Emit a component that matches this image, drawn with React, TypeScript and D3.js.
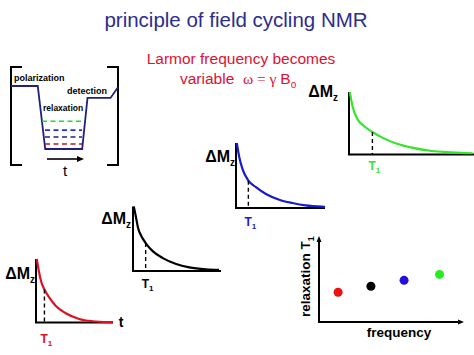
import React from "react";
import * as d3 from "d3";

// ---------- data ----------
// decay curves: t = fraction of time axis, m = fraction of initial ΔMz
const redT = [0, 0.026, 0.056, 0.1, 0.165, 0.25, 0.38, 0.555, 0.727, 0.944, 1.0];
const redM = [1, 0.815, 0.65, 0.52, 0.39, 0.26, 0.145, 0.055, 0.02, 0.006, 0.005];
const blackT = [0, 0.023, 0.049, 0.0875, 0.136, 0.22, 0.333, 0.485, 0.636, 0.826, 0.977];
const blackM = [1, 0.85, 0.667, 0.54, 0.434, 0.305, 0.2, 0.109, 0.057, 0.026, 0.016];
const blueT = [0, 0.03, 0.067, 0.131, 0.217, 0.33, 0.48, 0.63, 0.78, 0.966, 1.0];
const blueM = [1, 0.77, 0.59, 0.42, 0.32, 0.215, 0.128, 0.077, 0.04, 0.02, 0.018];
const greenT = [0, 0.022, 0.062, 0.114, 0.182, 0.262, 0.368, 0.5, 0.66, 0.82, 0.99];
const greenM = [1, 0.77, 0.565, 0.456, 0.36, 0.27, 0.18, 0.109, 0.056, 0.035, 0.02];
const t1Fraction = [0.1, 0.136, 0.131, 0.182];

// field-cycling pulse: time (a.u.) and field level
const pulseTime = [0, 2.5, 3.2, 6.65, 7.15, 9.3, 10];
const pulseField = [1, 1, 0, 0, 0.81, 0.81, 0.98];
const relaxLevels = [0.44, 0.3, 0.19, 0.08];
const relaxColors = ["#22dd22", "#2233dd", "#22227a", "#aa2222"];

// relaxation T1 vs frequency
const freq = [0.57, 1.55, 2.54, 3.6];
const relaxT1 = [0.35, 0.42, 0.49, 0.56];
const pointColors = ["#ee1111", "#000000", "#2211dd", "#22ee22"];

const FONT = "'Liberation Sans', Arial, Helvetica, sans-serif";

type Panel = {
  t: number[];
  m: number[];
  t1: number;
  color: string;
  x0: number;
  x1: number;
  yTop: number;
  yBot: number;
  labelEnd: number;
  labelBase: number;
  t1Base: number;
  showT?: boolean;
};

const panels: Panel[] = [
  { t: redT, m: redM, t1: t1Fraction[0], color: "#dd1122", x0: 36, x1: 113, yTop: 259, yBot: 322.5, labelEnd: 35, labelBase: 279, t1Base: 343, showT: true },
  { t: blackT, m: blackM, t1: t1Fraction[1], color: "#000000", x0: 133, x1: 221, yTop: 206.5, yBot: 271, labelEnd: 131, labelBase: 224, t1Base: 288 },
  { t: blueT, m: blueM, t1: t1Fraction[2], color: "#1a1acc", x0: 236, x1: 325, yTop: 143, yBot: 208, labelEnd: 235, labelBase: 162, t1Base: 226 },
  { t: greenT, m: greenM, t1: t1Fraction[3], color: "#33e62a", x0: 349, x1: 474, yTop: 92, yBot: 154.5, labelEnd: 338, labelBase: 97, t1Base: 170 },
];

function DecayPanel({ p }: { p: Panel }) {
  const x = d3.scaleLinear().domain([0, 1]).range([p.x0 + 0.8, p.x1]);
  const y = d3.scaleLinear().domain([0, 1]).range([p.yBot, p.yTop]);
  const pts = p.t.map((t, i) => [t, p.m[i]] as [number, number]);
  const line = d3
    .line<[number, number]>()
    .x((d) => x(d[0]))
    .y((d) => y(d[1]))
    .curve(d3.curveMonotoneX);
  const i = d3.bisectRight(p.t, p.t1);
  const a = p.t[i - 1], b = p.t[i];
  const mT1 = p.m[i - 1] + ((p.t1 - a) / (b - a)) * (p.m[i] - p.m[i - 1]);
  return (
    <g>
      <path d={`M${p.x0},${p.yTop}V${p.yBot}H${p.x1}`} fill="none" stroke="#000" strokeWidth={2} />
      <path d={line(pts) || ""} fill="none" stroke={p.color} strokeWidth={2.2} />
      <line x1={x(p.t1)} x2={x(p.t1)} y1={y(mT1)} y2={p.yBot} stroke="#000" strokeWidth={1.4} strokeDasharray="4,3" />
      <text x={p.labelEnd} y={p.labelBase} textAnchor="end" fontFamily={FONT} fontWeight="bold" fontSize={16} fill="#000">
        ΔM<tspan fontSize={10} dy={4}>z</tspan>
      </text>
      <text x={x(p.t1) + 2} y={p.t1Base} textAnchor="middle" fontFamily={FONT} fontWeight="bold" fontSize={12} fill={p.color}>
        T<tspan fontSize={8} dy={3}>1</tspan>
      </text>
      {p.showT && (
        <text x={121} y={327} textAnchor="middle" fontFamily={FONT} fontWeight="bold" fontSize={14} fill="#000">t</text>
      )}
    </g>
  );
}

function PulseDiagram() {
  const x = d3.scaleLinear().domain([0, 10]).range([11, 118]);
  const y = d3.scaleLinear().domain([0, 1]).range([149, 86]);
  const pts = pulseTime.map((t, i) => [t, pulseField[i]] as [number, number]);
  const line = d3.line<[number, number]>().x((d) => x(d[0])).y((d) => y(d[1]));
  return (
    <g>
      <path d="M22,67H11V165H22" fill="none" stroke="#000" strokeWidth={2} />
      <path d="M107,67H118V165H107" fill="none" stroke="#000" strokeWidth={2} />
      <path d={line(pts) || ""} fill="none" stroke="#20207a" strokeWidth={1.8} />
      {relaxLevels.map((lv, i) => (
        <line key={i} x1={i === 0 ? 42 : 45} x2={82} y1={y(lv)} y2={y(lv)} stroke={relaxColors[i]} strokeWidth={1.6} strokeDasharray="5,3.5" />
      ))}
      <text x={14} y={81} fontFamily={FONT} fontWeight="bold" fontSize={9}>polarization</text>
      <text x={67} y={94} fontFamily={FONT} fontWeight="bold" fontSize={9}>detection</text>
      <text x={43} y={111} fontFamily={FONT} fontWeight="bold" fontSize={8.5}>relaxation</text>
      <line x1={47} x2={79} y1={159} y2={159} stroke="#000" strokeWidth={1.6} />
      <path d="M84,159L77,156L77,162Z" fill="#000" />
      <text x={65} y={176} textAnchor="middle" fontFamily={FONT} fontSize={15}>t</text>
    </g>
  );
}

function Scatter() {
  const x = d3.scaleLinear().domain([0, 4.3]).range([319, 463]);
  const y = d3.scaleLinear().domain([0, 1]).range([322, 237]);
  return (
    <g>
      <path d={`M${x(0)},${y(1) + 4}V${y(0)}H${x(4.3) - 4}`} fill="none" stroke="#000" strokeWidth={2} />
      <path d={`M${x(0)},${y(1) - 1}L${x(0) - 2.5},${y(1) + 5}L${x(0) + 2.5},${y(1) + 5}Z`} fill="#000" />
      <path d={`M${x(4.3) + 1},${y(0)}L${x(4.3) - 5},${y(0) - 2.5}L${x(4.3) - 5},${y(0) + 2.5}Z`} fill="#000" />
      {freq.map((f, i) => (
        <circle key={i} cx={x(f)} cy={y(relaxT1[i])} r={4.5} fill={pointColors[i]} />
      ))}
      <text x={399} y={337} textAnchor="middle" fontFamily={FONT} fontWeight="bold" fontSize={13.5}>frequency</text>
      <text transform="translate(310,317) rotate(-90)" fontFamily={FONT} fontWeight="bold" fontSize={13.5}>
        relaxation  T<tspan fontSize={9} dy={4}>1</tspan>
      </text>
    </g>
  );
}

export default function App() {
  return (
    <svg width={474} height={355} style={{ position: "absolute", left: 0, top: 0, background: "#fff" }}>
      <rect width={474} height={355} fill="#fff" />
      <text x={236} y={27} textAnchor="middle" fontFamily={FONT} fontSize={20.5} fill="#2d2d8c">
        principle of field cycling NMR
      </text>
      <text x={241} y={64} textAnchor="middle" fontFamily={FONT} fontSize={15.5} fill="#dd1133">
        Larmor frequency becomes
      </text>
      <text x={180} y={84} fontFamily={FONT} fontSize={15.5} fill="#dd1133">
        variable{"\u00a0\u00a0"}
        <tspan fontFamily="'Liberation Serif', 'Times New Roman', serif">ω = γ </tspan>
        B<tspan fontSize={10} dy={4}>o</tspan>
      </text>
      <PulseDiagram />
      {panels.map((p, i) => (
        <DecayPanel key={i} p={p} />
      ))}
      <Scatter />
    </svg>
  );
}
